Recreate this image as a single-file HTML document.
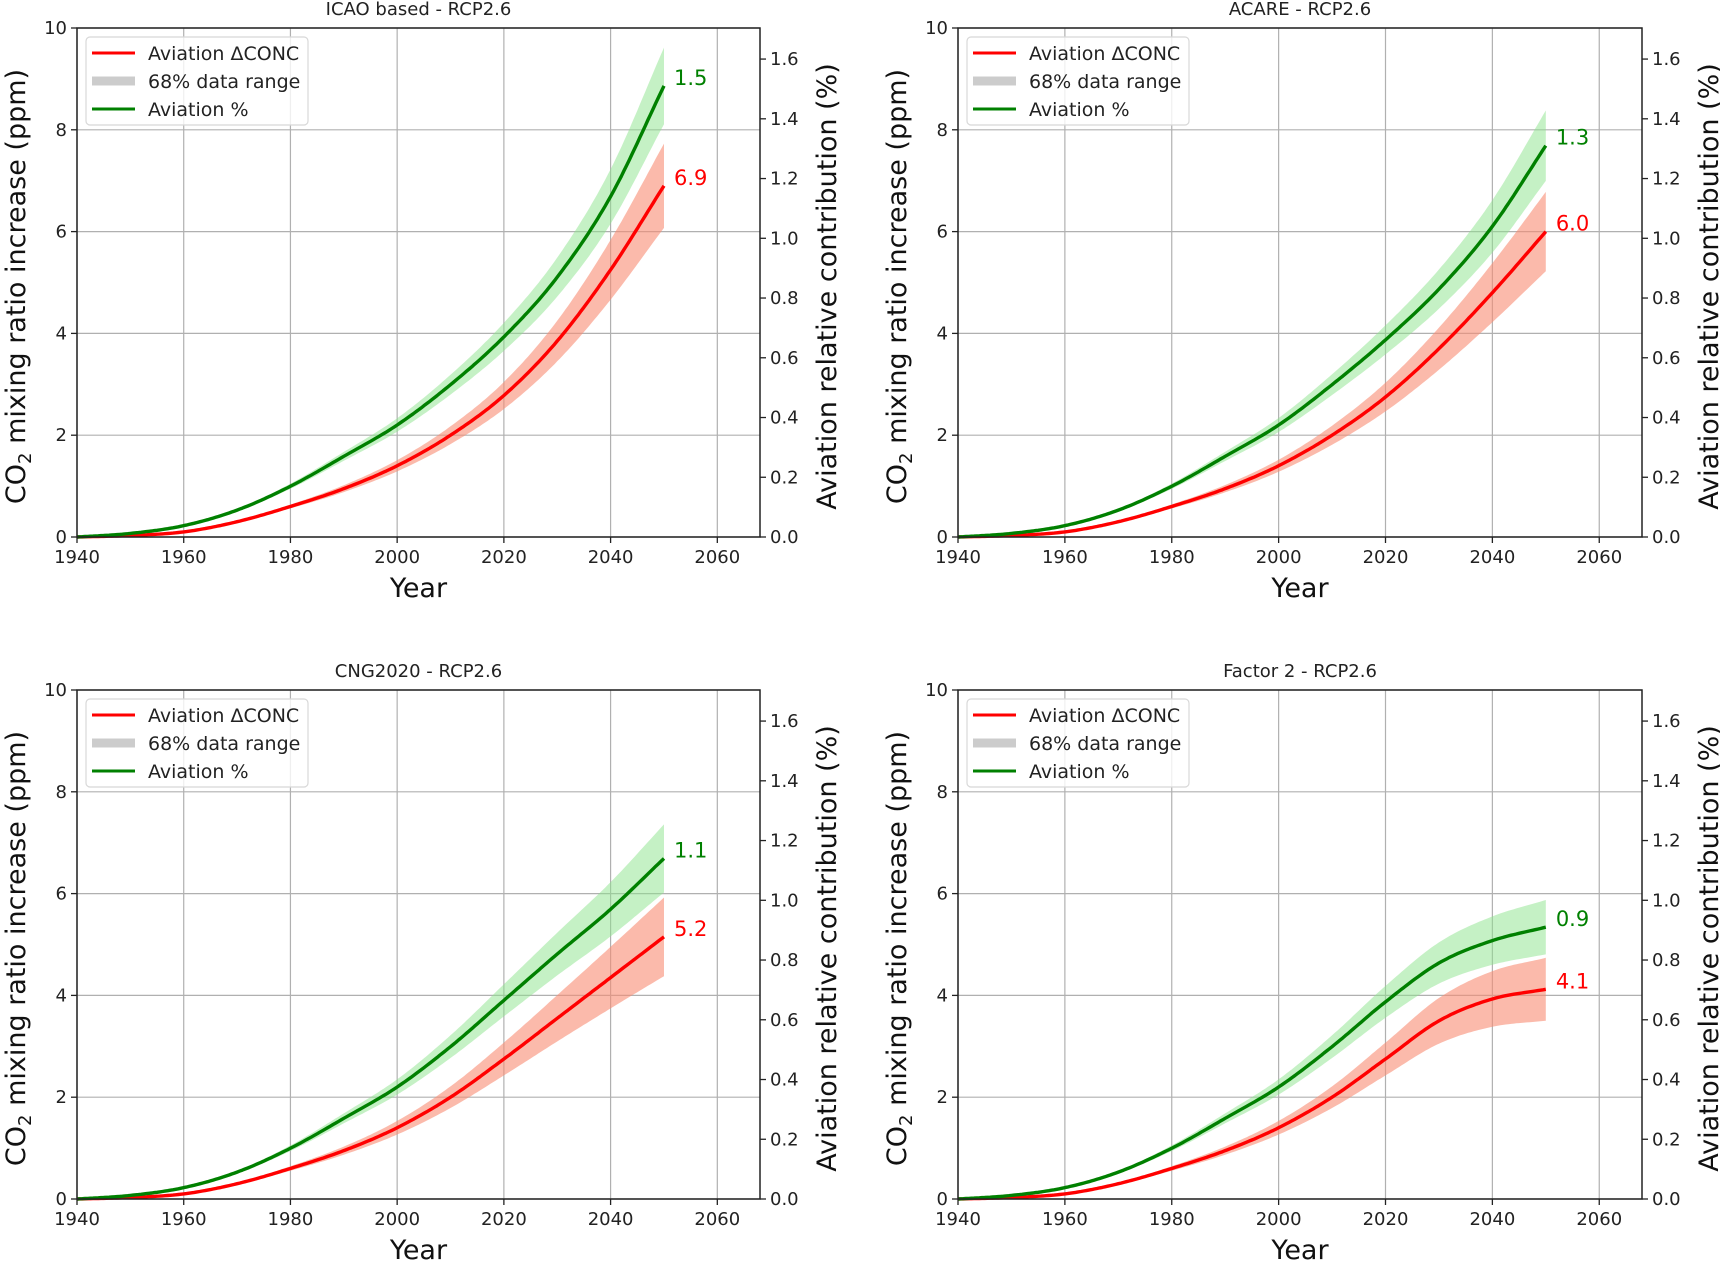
<!DOCTYPE html>
<html><head><meta charset="utf-8">
<style>
html,body{margin:0;padding:0;background:#fff;}
svg{display:block;font-family:"DejaVu Sans","Liberation Sans",sans-serif;}
</style></head>
<body>
<svg id="s" width="1720" height="1263" viewBox="0 0 1720 1263" xmlns="http://www.w3.org/2000/svg"></svg>
<script>
const NS="http://www.w3.org/2000/svg";
const svg=document.getElementById('s');
function el(tag,attrs,text,parent){const e=document.createElementNS(NS,tag);for(const k in attrs)e.setAttribute(k,attrs[k]);if(text!==undefined&&text!==null)e.textContent=text;(parent||svg).appendChild(e);return e;}
function interp(knots,x){
  let i=0;while(i<knots.length-2&&x>knots[i+1][0])i++;
  const p1=knots[i],p2=knots[i+1];const p0=knots[Math.max(0,i-1)],p3=knots[Math.min(knots.length-1,i+2)];
  const t=(x-p1[0])/(p2[0]-p1[0]);
  const m1=(p2[1]-p0[1])/(p2[0]-p0[0])*(p2[0]-p1[0]);
  const m2=(p3[1]-p1[1])/(p3[0]-p1[0])*(p2[0]-p1[0]);
  const t2=t*t,t3=t2*t;
  return (2*t3-3*t2+1)*p1[1]+(t3-2*t2+t)*m1+(-2*t3+3*t2)*p2[1]+(t3-t2)*m2;
}
const G0=[[1940,0],[1950,0.012],[1960,0.038],[1970,0.09],[1980,0.17],[1990,0.27],[2000,0.375]];
const R0=[[1940,0],[1950,0.03],[1960,0.1],[1970,0.3],[1980,0.6],[1990,0.95],[2000,1.4]];
const panels=[
 {x0:77,x1:760,y0:28,y1:537,title:"ICAO based - RCP2.6",
  red:R0.concat([[2010,2.0],[2020,2.78],[2030,3.85],[2040,5.25],[2050,6.9]]),
  grn:G0.concat([[2010,0.51],[2020,0.67],[2030,0.87],[2040,1.14],[2050,1.51]]),
  rl:"6.9",gl:"1.5",rk:0.12,gk:0.085},
 {x0:958,x1:1642,y0:28,y1:537,title:"ACARE - RCP2.6",
  red:R0.concat([[2010,2.0],[2020,2.75],[2030,3.7],[2040,4.8],[2050,6.0]]),
  grn:G0.concat([[2010,0.51],[2020,0.66],[2030,0.83],[2040,1.04],[2050,1.31]]),
  rl:"6.0",gl:"1.3",rk:0.13,gk:0.09},
 {x0:77,x1:760,y0:690,y1:1199,title:"CNG2020 - RCP2.6",
  red:R0.concat([[2010,2.0],[2020,2.75],[2030,3.55],[2040,4.35],[2050,5.15]]),
  grn:G0.concat([[2010,0.51],[2020,0.665],[2030,0.82],[2040,0.97],[2050,1.14]]),
  rl:"5.2",gl:"1.1",rk:0.15,gk:0.1},
 {x0:958,x1:1642,y0:690,y1:1199,title:"Factor 2 - RCP2.6",
  red:R0.concat([[2010,2.0],[2020,2.75],[2030,3.5],[2040,3.93],[2050,4.12]]),
  grn:G0.concat([[2010,0.51],[2020,0.66],[2030,0.79],[2040,0.865],[2050,0.91]]),
  rl:"4.1",gl:"0.9",rk:0.15,gk:0.1},
];
panels.forEach(p=>{
  const W=p.x1-p.x0,H=p.y1-p.y0;
  const pxYr=W/128;
  const X=y=>p.x0+(y-1940)*pxYr;
  const YL=v=>p.y1-v*H/10;
  const YR=v=>p.y1-v*H/1.704;
  for(let yr=1940;yr<=2060;yr+=20){el('line',{x1:X(yr),x2:X(yr),y1:p.y0,y2:p.y1,stroke:'#b0b0b0','stroke-width':1.2});}
  for(let v=0;v<=10;v+=2){el('line',{x1:p.x0,x2:p.x1,y1:YL(v),y2:YL(v),stroke:'#b0b0b0','stroke-width':1.2});}
  function series(knots,Y,k,fill,stroke){
    const up=[],lo=[],mid=[];
    for(let yr=1940;yr<=2050.001;yr+=0.5){
      const v=interp(knots,yr);const kk=0.03+(k-0.03)*(yr-1940)/110;
      up.push(X(yr).toFixed(1)+','+Y(v*(1+kk)).toFixed(1));
      lo.push(X(yr).toFixed(1)+','+Y(v*(1-kk)).toFixed(1));
      mid.push(X(yr).toFixed(1)+','+Y(v).toFixed(1));
    }
    el('polygon',{points:up.concat(lo.reverse()).join(' '),fill:fill});
    el('polyline',{points:mid.join(' '),fill:'none',stroke:stroke,'stroke-width':3.4,'stroke-linejoin':'round'});
  }
  series(p.red,YL,p.rk,'rgba(248,140,115,0.6)','#ff0000');
  series(p.grn,YR,p.gk,'rgba(140,228,140,0.5)','#008000');
  const re=p.red[p.red.length-1][1],ge=p.grn[p.grn.length-1][1];
  el('text',{x:X(2050)+10,y:YL(re)-1,fill:'#ff0000','font-size':21},p.rl);
  el('text',{x:X(2050)+10,y:YR(ge)-1,fill:'#008000','font-size':21},p.gl);
  el('rect',{x:p.x0,y:p.y0,width:W,height:H,fill:'none',stroke:'#222','stroke-width':1.5});
  for(let yr=1940;yr<=2060;yr+=20){
    el('line',{x1:X(yr),x2:X(yr),y1:p.y1,y2:p.y1+6,stroke:'#222','stroke-width':1.3});
    el('text',{x:X(yr),y:p.y1+26,'text-anchor':'middle','font-size':18,fill:'#222'},String(yr));
  }
  for(let v=0;v<=10;v+=2){
    el('line',{x1:p.x0-6,x2:p.x0,y1:YL(v),y2:YL(v),stroke:'#222','stroke-width':1.3});
    el('text',{x:p.x0-10,y:YL(v)+6,'text-anchor':'end','font-size':18,fill:'#222'},String(v));
  }
  for(let i=0;i<=8;i++){const v=i*0.2;
    el('line',{x1:p.x1,x2:p.x1+6,y1:YR(v),y2:YR(v),stroke:'#222','stroke-width':1.3});
    el('text',{x:p.x1+10,y:YR(v)+6,'font-size':18,fill:'#222'},v.toFixed(1));
  }
  el('text',{x:(p.x0+p.x1)/2,y:p.y0-13,'text-anchor':'middle','font-size':18,fill:'#222'},p.title);
  el('text',{x:(p.x0+p.x1)/2,y:p.y1+60,'text-anchor':'middle','font-size':27,fill:'#111'},'Year');
  const cy=(p.y0+p.y1)/2+4;
  const yl=el('text',{x:0,y:0,'text-anchor':'middle','font-size':27,fill:'#111',transform:`translate(${p.x0-52},${cy}) rotate(-90)`});
  el('tspan',{},'CO',yl);el('tspan',{'font-size':18,dy:6},'2',yl);el('tspan',{dy:-6},' mixing ratio increase (ppm)',yl);
  el('text',{x:0,y:0,'text-anchor':'middle','font-size':27,fill:'#111',transform:`translate(${p.x1+76},${cy}) rotate(-90)`},'Aviation relative contribution (%)');
  const lx=p.x0+9,ly=p.y0+9;
  el('rect',{x:lx,y:ly,width:222,height:88,rx:4,fill:'rgba(255,255,255,0.8)',stroke:'#d8d8d8','stroke-width':1.2});
  const rows=[['#ff0000',3,'Aviation \u0394CONC'],['#cccccc',9,'68% data range'],['#008000',3,'Aviation %']];
  rows.forEach((r,i)=>{const yy=ly+16+i*28;
    el('line',{x1:lx+6,x2:lx+49,y1:yy,y2:yy,stroke:r[0],'stroke-width':r[1]});
    el('text',{x:lx+62,y:yy+7,'font-size':19,fill:'#222'},r[2]);
  });
});
</script>
</body></html>
